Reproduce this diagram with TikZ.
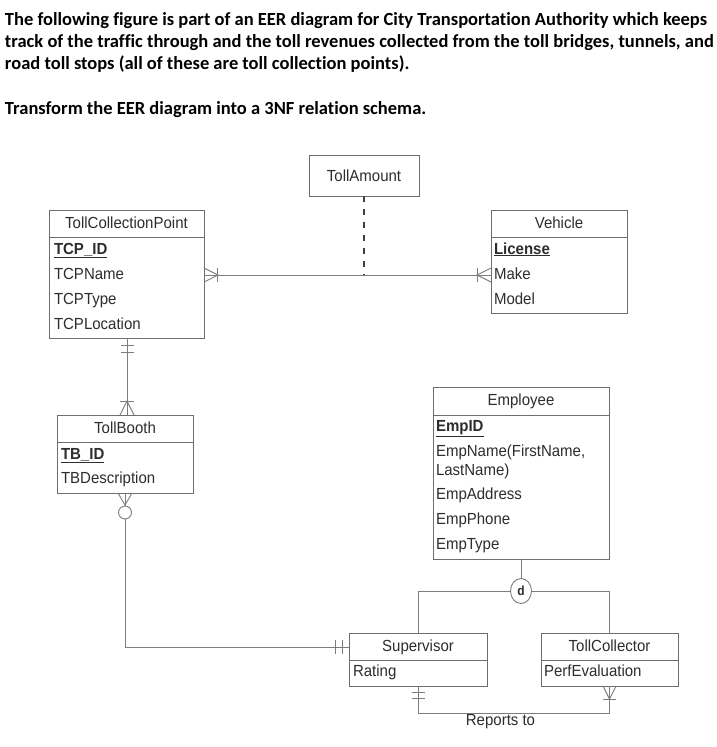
\documentclass[tikz,border=0pt]{standalone}
\usepackage{fontspec}
\setmainfont{Liberation Sans}
\newfontfamily\titlefont{Carlito}[Ligatures={NoCommon}]
\usepackage{graphicx}
\usetikzlibrary{shapes.geometric}
\definecolor{linegray}{RGB}{125,125,125}
\definecolor{boxgray}{RGB}{110,110,110}
\definecolor{textgray}{RGB}{45,45,45}
\newcommand{\dtxt}[1]{\scalebox{1}[1.07]{\fontsize{15}{16}\selectfont #1}}
\newcommand{\ttxt}[1]{{\titlefont\bfseries\fontsize{18.5}{20}\selectfont #1}}
\newcommand{\keytxt}[1]{\underline{\textbf{#1}}}
\tikzset{
  ent/.style={draw=boxgray, line width=0.9pt, inner sep=0pt, outer sep=0pt, rectangle, anchor=north west},
  lbl/.style={inner sep=0pt, outer sep=0pt, text=textgray, anchor=base},
  attr/.style={inner sep=0pt, outer sep=0pt, text=textgray, anchor=base west},
  ttl/.style={inner sep=0pt, outer sep=0pt, text=black, anchor=base west},
  conn/.style={draw=linegray, line width=0.9pt},
}
\begin{document}
\begin{tikzpicture}[x=1pt,y=-1pt]
\useasboundingbox (0,0) rectangle (717,747);
\fill[white] (0,0) rectangle (717,747);
% title
\node[ttl] (t1) at (5,25) {\ttxt{The following figure is part of an EER diagram for City Transportation Authority which keeps}};
\node[ttl] (t2) at (5,47) {\ttxt{track of the traffic through and the toll revenues collected from the toll bridges, tunnels, and}};
\node[ttl] (t3) at (5,69) {\ttxt{road toll stops (all of these are toll collection points).}};
\node[ttl] (t4) at (5,114) {\ttxt{Transform the EER diagram into a 3NF relation schema.}};
% helper coordinates
\coordinate (y275) at (0,275);
\coordinate (y647) at (0,647);
\coordinate (y713) at (0,713);
% TollAmount
\node[ent, minimum width=110pt, minimum height=41pt] (ta) at (309,155) {};
\node[lbl] (tat) at (364,181) {\dtxt{TollAmount}};
% TollCollectionPoint
\node[ent, minimum width=155pt, minimum height=27pt] (tcph) at (49,210) {};
\node[ent, minimum width=155pt, minimum height=101pt] (tcpb) at (49,237) {};
\node[lbl] (tcpt) at (126.5,228) {\dtxt{TollCollectionPoint}};
\node[attr] (tcp1) at (54,254) {\dtxt{\keytxt{TCP\_ID}}};
\node[attr] (tcp2) at (54,279) {\dtxt{TCPName}};
\node[attr] (tcp3) at (54,304) {\dtxt{TCPType}};
\node[attr] (tcp4) at (54,329) {\dtxt{TCPLocation}};
% Vehicle
\node[ent, minimum width=136pt, minimum height=27pt] (vehh) at (491,210) {};
\node[ent, minimum width=136pt, minimum height=76pt] (vehb) at (491,237) {};
\node[lbl] (veht) at (559,228) {\dtxt{Vehicle}};
\node[attr] (veh1) at (494,254) {\dtxt{\keytxt{License}}};
\node[attr] (veh2) at (494,279) {\dtxt{Make}};
\node[attr] (veh3) at (494,304) {\dtxt{Model}};
% TollBooth
\node[ent, minimum width=136pt, minimum height=27pt] (tbh) at (57,415) {};
\node[ent, minimum width=136pt, minimum height=51pt] (tbb) at (57,442) {};
\node[lbl] (tbt) at (125,433) {\dtxt{TollBooth}};
\node[attr] (tb1) at (61,459) {\dtxt{\keytxt{TB\_ID}}};
\node[attr] (tb2) at (61,483) {\dtxt{TBDescription}};
% Employee
\node[ent, minimum width=176pt, minimum height=28pt] (emph) at (433,387) {};
\node[ent, minimum width=176pt, minimum height=144pt] (empb) at (433,415) {};
\node[lbl] (empt) at (521,405) {\dtxt{Employee}};
\node[attr] (emp1) at (436,431) {\dtxt{\keytxt{EmpID}}};
\node[attr] (emp2) at (436,456) {\dtxt{EmpName(FirstName,}};
\node[attr] (emp2b) at (436,475) {\dtxt{LastName)}};
\node[attr] (emp3) at (436,499) {\dtxt{EmpAddress}};
\node[attr] (emp4) at (436,524) {\dtxt{EmpPhone}};
\node[attr] (emp5) at (436,549) {\dtxt{EmpType}};
% Supervisor
\node[ent, minimum width=138pt, minimum height=27pt] (suph) at (349,633) {};
\node[ent, minimum width=138pt, minimum height=26pt] (supb) at (349,660) {};
\node[lbl] (supt) at (418,651) {\dtxt{Supervisor}};
\node[attr] (sup1) at (353,676) {\dtxt{Rating}};
% TollCollector
\node[ent, minimum width=137pt, minimum height=27pt] (tch) at (541,633) {};
\node[ent, minimum width=137pt, minimum height=26pt] (tcb) at (541,660) {};
\node[lbl] (tct) at (609.5,651) {\dtxt{TollCollector}};
\node[attr] (tc1) at (544,676) {\dtxt{PerfEvaluation}};
% disjoint circle
\node[draw=linegray, line width=0.9pt, ellipse, minimum width=21pt, minimum height=25pt, inner sep=0pt, text=textgray] (dn) at (521,591) {\scalebox{1}[1.1]{\fontsize{12}{14}\selectfont\bfseries d}};
% relationship TCP - Vehicle
\coordinate (r1a) at (tcpb.east |- y275);
\coordinate (r1b) at (vehb.west |- y275);
\draw[conn] (r1a) -- (r1b);
\draw[conn] (r1a) ++(0,-7) -- ++(14,7) -- ++(-14,7);
\draw[conn] (r1a) ++(13,-7) -- ++(0,14);
\draw[conn] (r1b) ++(0,-7) -- ++(-14,7) -- ++(14,7);
\draw[conn] (r1b) ++(-14,-7) -- ++(0,14);
% TollAmount dashed
\draw[draw=black!75, line width=2pt, dash pattern=on 6pt off 7pt] (ta.south) -- (ta.south |- y275);
% TCP - TollBooth
\coordinate (r2a) at (127,338);
\coordinate (r2b) at (127,415);
\draw[conn] (r2a) -- (r2b);
\draw[conn] (r2a) ++(-6.5,7) -- ++(13,0);
\draw[conn] (r2a) ++(-6.5,14) -- ++(13,0);
\draw[conn] (r2b) ++(-7,0) -- ++(7,-14) -- ++(7,14);
\draw[conn] (r2b) ++(-7,-14) -- ++(14,0);
% TollBooth - Supervisor
\node[draw=linegray, line width=0.9pt, circle, minimum size=13pt, inner sep=0pt] (oc) at (125,512.5) {};
\draw[conn] (tbb.south) -- (oc.north);
\draw[conn] (tbb.south) ++(-7,0) -- ++(7,12) -- ++(7,-12);
\coordinate (r3c) at (oc.south |- y647);
\coordinate (r3d) at (suph.west |- y647);
\draw[conn] (oc.south) -- (r3c) -- (r3d);
\draw[conn] (r3d) ++(-14,-7) -- ++(0,14);
\draw[conn] (r3d) ++(-7,-7) -- ++(0,14);
% Employee - d - subtypes
\draw[conn] (empb.south) -- (dn.north);
\draw[conn] (dn.west) -| (suph.north);
\draw[conn] (dn.east) -| (tch.north);
% Reports to
\coordinate (r4a) at (supb.south |- y713);
\coordinate (r4b) at (tcb.south |- y713);
\draw[conn] (supb.south) -- (r4a) -- (r4b) -- (tcb.south);
\draw[conn] (supb.south) ++(-6.5,6) -- ++(13,0);
\draw[conn] (supb.south) ++(-6.5,12) -- ++(13,0);
\draw[conn] (tcb.south) ++(-6.5,0) -- ++(6.5,13) -- ++(6.5,-13);
\draw[conn] (tcb.south) ++(-6.5,13) -- ++(13,0);
\node[lbl] (rlbl) at (500.5,725.7) {\dtxt{Reports to}};
\end{tikzpicture}
\end{document}
